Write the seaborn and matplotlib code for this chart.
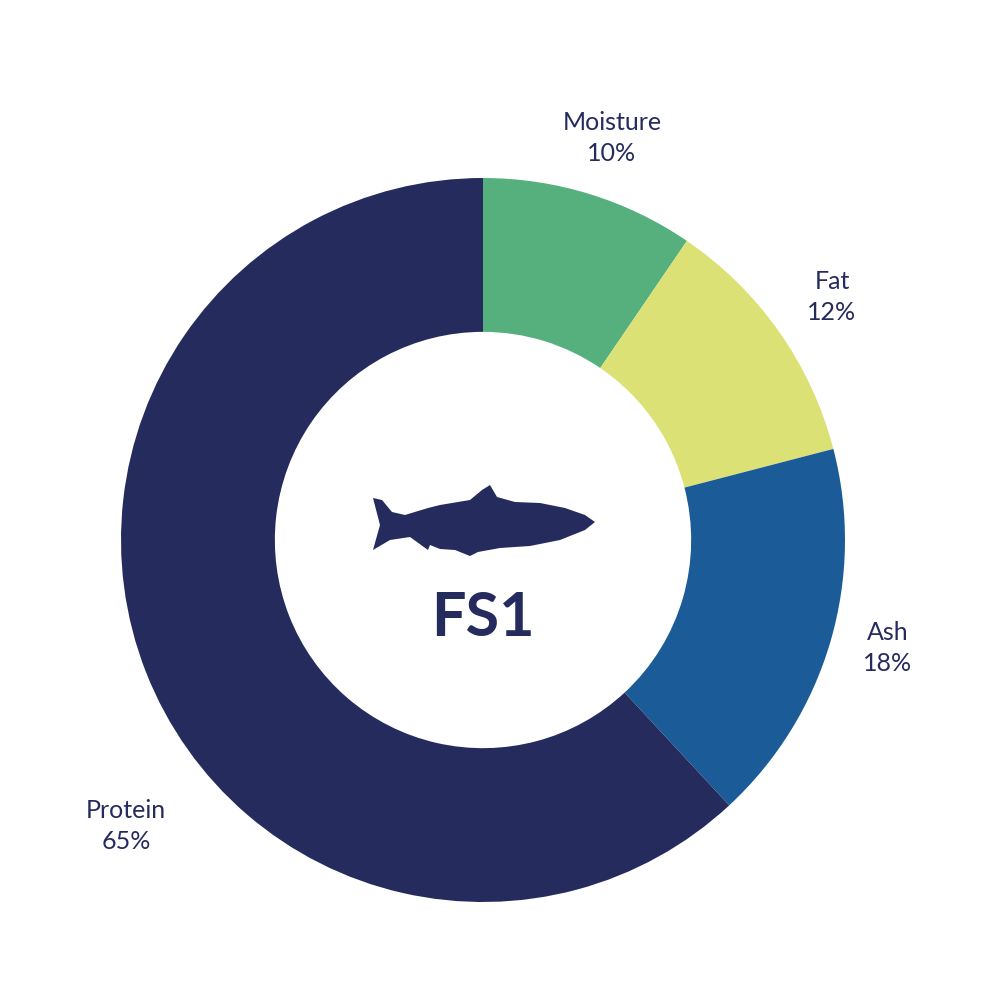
import matplotlib
matplotlib.use("Agg")
import matplotlib.pyplot as plt
import seaborn as sns
from matplotlib.patches import Polygon

sns.set_theme(style="white")
plt.rcParams['font.family'] = ['Lato', 'DejaVu Sans']

categories = ["Moisture", "Fat", "Ash", "Protein"]
values = [10, 12, 18, 65]
labels = ["Moisture\n10%", "Fat\n12%", "Ash\n18%", "Protein\n65%"]
colors = ["#55b07d", "#dce175", "#1b5c98", "#252c5d"]
label_pos = [(612, 863), (832, 704), (888, 353), (126, 175)]

W, H = 1000, 1001
fig = plt.figure(figsize=(10, 10.01), dpi=100)
ax = fig.add_axes([0, 0, 1, 1])
ax.set_xlim(0, W); ax.set_ylim(0, H); ax.set_aspect('equal'); ax.axis('off')

cx, cy, R = 483, H - 540, 362
ax.pie(values, colors=colors, startangle=90, counterclock=False,
       center=(cx, cy), radius=R, wedgeprops=dict(width=R * 0.425, linewidth=0),
       frame=True)
ax.set_xlim(0, W); ax.set_ylim(0, H); ax.axis('off')

for lab, (x, y) in zip(labels, label_pos):
    ax.text(x, y, lab, ha='center', va='center', fontsize=18, color="#252c5d",
            linespacing=1.45)

ax.text(cx, H - 618, "FS1", ha='center', va='center', fontsize=44,
        fontweight='bold', color="#252c5d")

# decorative fish icon (top-down pixel coords converted)
fish = [(373, 498), (382, 500), (392, 512), (405, 515), (428, 508), (440, 505),
        (470, 500), (482, 490), (490, 485), (497, 497), (515, 502), (540, 503),
        (565, 508), (585, 515), (595, 522), (585, 530), (560, 540), (530, 546),
        (500, 548), (478, 552), (470, 556), (455, 550), (440, 549), (430, 545),
        (428, 550), (410, 537), (390, 540), (373, 550), (380, 525)]
ax.add_patch(Polygon([(x, H - y) for x, y in fish], closed=True,
                     facecolor="#252c5d", edgecolor='none'))

fig.savefig("out.png", dpi=100, facecolor='white')
